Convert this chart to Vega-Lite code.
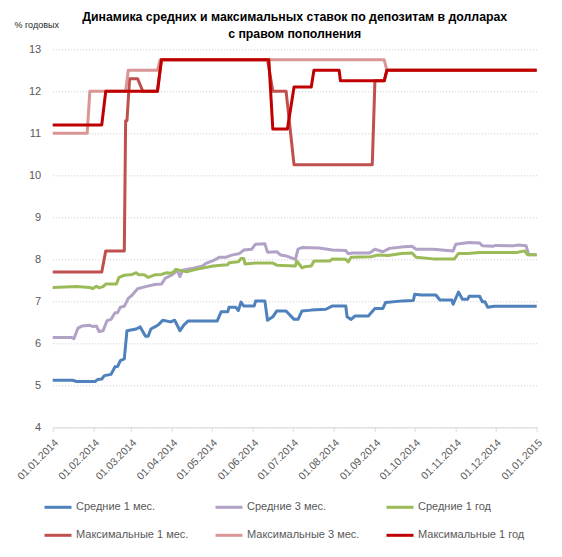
{
"$schema": "https://vega.github.io/schema/vega-lite/v6.json",
"width": 484, "height": 378,
"autosize": {"type": "none"},
"padding": {"left": 52.7, "top": 49.3, "right": 25.3, "bottom": 129.7},
"title": {"text": ["Динамика средних и максимальных ставок по депозитам в долларах", "с правом пополнения"], "font": "Liberation Sans", "fontSize": 12.3, "fontWeight": "bold", "color": "#000000", "anchor": "middle", "offset": -20, "lineHeight": 17},
"config": {"view": {"stroke": null}, "font": "Liberation Sans"},
"datasets": {
"m1": [{"d":"2014-01-01","v":5.12},{"d":"2014-01-16","v":5.12},{"d":"2014-01-19","v":5.09},{"d":"2014-02-02","v":5.09},{"d":"2014-02-04","v":5.14},{"d":"2014-02-07","v":5.15},{"d":"2014-02-09","v":5.23},{"d":"2014-02-14","v":5.26},{"d":"2014-02-17","v":5.44},{"d":"2014-02-19","v":5.45},{"d":"2014-02-21","v":5.59},{"d":"2014-02-24","v":5.63},{"d":"2014-02-26","v":6.30},{"d":"2014-03-05","v":6.34},{"d":"2014-03-08","v":6.39},{"d":"2014-03-12","v":6.17},{"d":"2014-03-14","v":6.17},{"d":"2014-03-16","v":6.34},{"d":"2014-03-19","v":6.39},{"d":"2014-03-22","v":6.45},{"d":"2014-03-25","v":6.55},{"d":"2014-03-31","v":6.51},{"d":"2014-04-03","v":6.55},{"d":"2014-04-07","v":6.30},{"d":"2014-04-10","v":6.44},{"d":"2014-04-13","v":6.53},{"d":"2014-05-05","v":6.53},{"d":"2014-05-08","v":6.75},{"d":"2014-05-13","v":6.75},{"d":"2014-05-14","v":6.86},{"d":"2014-05-19","v":6.86},{"d":"2014-05-21","v":6.78},{"d":"2014-05-23","v":6.98},{"d":"2014-05-25","v":6.89},{"d":"2014-06-02","v":6.89},{"d":"2014-06-03","v":7.01},{"d":"2014-06-10","v":7.01},{"d":"2014-06-12","v":6.55},{"d":"2014-06-16","v":6.63},{"d":"2014-06-19","v":6.77},{"d":"2014-06-26","v":6.77},{"d":"2014-07-02","v":6.57},{"d":"2014-07-05","v":6.57},{"d":"2014-07-08","v":6.77},{"d":"2014-07-15","v":6.79},{"d":"2014-07-26","v":6.81},{"d":"2014-07-31","v":6.89},{"d":"2014-08-10","v":6.89},{"d":"2014-08-11","v":6.63},{"d":"2014-08-14","v":6.57},{"d":"2014-08-17","v":6.65},{"d":"2014-08-27","v":6.65},{"d":"2014-09-01","v":6.83},{"d":"2014-09-07","v":6.83},{"d":"2014-09-09","v":6.97},{"d":"2014-09-22","v":7.01},{"d":"2014-09-30","v":7.02},{"d":"2014-10-01","v":7.17},{"d":"2014-10-06","v":7.15},{"d":"2014-10-17","v":7.15},{"d":"2014-10-20","v":7.03},{"d":"2014-10-29","v":7.03},{"d":"2014-10-30","v":6.93},{"d":"2014-11-03","v":7.22},{"d":"2014-11-06","v":7.05},{"d":"2014-11-10","v":7.05},{"d":"2014-11-11","v":7.12},{"d":"2014-11-19","v":7.12},{"d":"2014-11-21","v":6.99},{"d":"2014-11-23","v":6.99},{"d":"2014-11-25","v":6.86},{"d":"2014-11-30","v":6.88},{"d":"2015-01-01","v":6.88}],
"m3": [{"d":"2014-01-01","v":6.14},{"d":"2014-01-15","v":6.14},{"d":"2014-01-17","v":6.11},{"d":"2014-01-20","v":6.36},{"d":"2014-01-23","v":6.41},{"d":"2014-01-29","v":6.43},{"d":"2014-01-31","v":6.40},{"d":"2014-02-03","v":6.41},{"d":"2014-02-05","v":6.28},{"d":"2014-02-08","v":6.30},{"d":"2014-02-11","v":6.54},{"d":"2014-02-14","v":6.57},{"d":"2014-02-17","v":6.73},{"d":"2014-02-19","v":6.73},{"d":"2014-02-21","v":6.86},{"d":"2014-02-24","v":6.88},{"d":"2014-02-27","v":7.07},{"d":"2014-03-02","v":7.15},{"d":"2014-03-06","v":7.30},{"d":"2014-03-12","v":7.35},{"d":"2014-03-19","v":7.40},{"d":"2014-03-24","v":7.41},{"d":"2014-03-27","v":7.55},{"d":"2014-04-01","v":7.63},{"d":"2014-04-05","v":7.73},{"d":"2014-04-07","v":7.59},{"d":"2014-04-09","v":7.74},{"d":"2014-04-17","v":7.79},{"d":"2014-04-24","v":7.84},{"d":"2014-04-27","v":7.91},{"d":"2014-05-02","v":7.97},{"d":"2014-05-07","v":8.05},{"d":"2014-05-12","v":8.05},{"d":"2014-05-16","v":8.10},{"d":"2014-05-22","v":8.14},{"d":"2014-05-25","v":8.22},{"d":"2014-05-31","v":8.24},{"d":"2014-06-03","v":8.36},{"d":"2014-06-10","v":8.37},{"d":"2014-06-12","v":8.17},{"d":"2014-06-19","v":8.18},{"d":"2014-06-22","v":8.10},{"d":"2014-06-26","v":8.08},{"d":"2014-07-03","v":8.00},{"d":"2014-07-05","v":8.24},{"d":"2014-07-08","v":8.28},{"d":"2014-07-21","v":8.27},{"d":"2014-07-31","v":8.22},{"d":"2014-08-10","v":8.21},{"d":"2014-08-12","v":8.13},{"d":"2014-08-15","v":8.15},{"d":"2014-08-28","v":8.15},{"d":"2014-09-01","v":8.24},{"d":"2014-09-07","v":8.18},{"d":"2014-09-12","v":8.26},{"d":"2014-09-23","v":8.30},{"d":"2014-09-29","v":8.31},{"d":"2014-10-02","v":8.24},{"d":"2014-10-15","v":8.24},{"d":"2014-10-30","v":8.20},{"d":"2014-11-01","v":8.36},{"d":"2014-11-11","v":8.40},{"d":"2014-11-19","v":8.39},{"d":"2014-11-21","v":8.32},{"d":"2014-11-29","v":8.31},{"d":"2014-12-01","v":8.33},{"d":"2014-12-14","v":8.32},{"d":"2014-12-18","v":8.34},{"d":"2014-12-24","v":8.32},{"d":"2014-12-26","v":8.11},{"d":"2015-01-01","v":8.11}],
"g1": [{"d":"2014-01-01","v":7.33},{"d":"2014-01-19","v":7.35},{"d":"2014-01-29","v":7.33},{"d":"2014-01-31","v":7.30},{"d":"2014-02-03","v":7.36},{"d":"2014-02-05","v":7.32},{"d":"2014-02-08","v":7.35},{"d":"2014-02-10","v":7.41},{"d":"2014-02-18","v":7.41},{"d":"2014-02-20","v":7.57},{"d":"2014-02-24","v":7.62},{"d":"2014-03-02","v":7.64},{"d":"2014-03-05","v":7.68},{"d":"2014-03-07","v":7.63},{"d":"2014-03-11","v":7.63},{"d":"2014-03-14","v":7.57},{"d":"2014-03-19","v":7.63},{"d":"2014-03-24","v":7.64},{"d":"2014-03-28","v":7.68},{"d":"2014-04-01","v":7.67},{"d":"2014-04-04","v":7.76},{"d":"2014-04-12","v":7.70},{"d":"2014-04-19","v":7.76},{"d":"2014-04-24","v":7.79},{"d":"2014-05-02","v":7.84},{"d":"2014-05-08","v":7.86},{"d":"2014-05-13","v":7.87},{"d":"2014-05-14","v":7.92},{"d":"2014-05-21","v":7.94},{"d":"2014-05-23","v":8.02},{"d":"2014-05-25","v":8.02},{"d":"2014-05-26","v":7.89},{"d":"2014-06-03","v":7.91},{"d":"2014-06-16","v":7.91},{"d":"2014-06-19","v":7.86},{"d":"2014-07-03","v":7.84},{"d":"2014-07-04","v":7.96},{"d":"2014-07-08","v":7.80},{"d":"2014-07-10","v":7.82},{"d":"2014-07-15","v":7.84},{"d":"2014-07-17","v":7.96},{"d":"2014-07-29","v":7.96},{"d":"2014-07-31","v":8.01},{"d":"2014-08-10","v":8.00},{"d":"2014-08-12","v":7.94},{"d":"2014-08-14","v":8.05},{"d":"2014-08-29","v":8.06},{"d":"2014-09-03","v":8.10},{"d":"2014-09-11","v":8.09},{"d":"2014-09-21","v":8.14},{"d":"2014-09-29","v":8.15},{"d":"2014-10-02","v":8.05},{"d":"2014-10-15","v":8.01},{"d":"2014-10-31","v":8.01},{"d":"2014-11-03","v":8.14},{"d":"2014-11-10","v":8.14},{"d":"2014-11-19","v":8.16},{"d":"2014-12-17","v":8.16},{"d":"2014-12-23","v":8.20},{"d":"2014-12-25","v":8.11},{"d":"2015-01-01","v":8.11}],
"x1": [{"d":"2014-01-01","v":7.7},{"d":"2014-02-07","v":7.7},{"d":"2014-02-10","v":8.2},{"d":"2014-02-24","v":8.2},{"d":"2014-02-25","v":11.3},{"d":"2014-02-26","v":11.3},{"d":"2014-02-28","v":12.3},{"d":"2014-03-06","v":12.3},{"d":"2014-03-10","v":12.0},{"d":"2014-03-21","v":12.0},{"d":"2014-03-24","v":12.75},{"d":"2014-06-12","v":12.75},{"d":"2014-06-16","v":12.0},{"d":"2014-06-26","v":12.0},{"d":"2014-07-02","v":10.25},{"d":"2014-08-30","v":10.25},{"d":"2014-09-01","v":12.25},{"d":"2014-09-08","v":12.25},{"d":"2014-09-10","v":12.5},{"d":"2015-01-01","v":12.5}],
"x3": [{"d":"2014-01-01","v":11.0},{"d":"2014-01-27","v":11.0},{"d":"2014-01-29","v":12.0},{"d":"2014-02-25","v":12.0},{"d":"2014-02-27","v":12.5},{"d":"2014-03-21","v":12.5},{"d":"2014-03-23","v":12.75},{"d":"2014-09-08","v":12.75},{"d":"2014-09-10","v":12.5},{"d":"2015-01-01","v":12.5}],
"y1": [{"d":"2014-01-01","v":11.2},{"d":"2014-02-07","v":11.2},{"d":"2014-02-10","v":12.0},{"d":"2014-03-21","v":12.0},{"d":"2014-03-24","v":12.75},{"d":"2014-06-13","v":12.75},{"d":"2014-06-16","v":11.1},{"d":"2014-06-27","v":11.1},{"d":"2014-07-02","v":12.1},{"d":"2014-07-15","v":12.1},{"d":"2014-07-17","v":12.5},{"d":"2014-08-05","v":12.5},{"d":"2014-08-06","v":12.25},{"d":"2014-09-08","v":12.25},{"d":"2014-09-10","v":12.5},{"d":"2015-01-01","v":12.5}]
},
"encoding": {
"x": {"field": "d", "type": "temporal",
 "scale": {"type": "utc", "domain": [{"year": 2014, "month": 1, "date": 1, "utc": true}, {"year": 2015, "month": 1, "date": 1, "utc": true}]},
 "axis": {"title": null, "labelExpr": "utcFormat(datum.value, '%d.%m.%Y')", "tickCount": {"interval": "month", "step": 1}, "labelAngle": -45, "labelFontSize": 10.5, "labelColor": "#595959", "domainColor": "#D9D9D9", "tickColor": "#D9D9D9", "tickSize": 4, "grid": false, "labelPadding": 6, "labelOverlap": false, "labelFlush": false, "labelBound": false}},
"y": {"field": "v", "type": "quantitative",
 "scale": {"domain": [4, 13], "nice": false, "zero": false},
 "axis": {"title": "% годовых", "titleAngle": 0, "titleX": -38.7, "titleY": -25, "titleAlign": "left", "titleBaseline": "middle", "titleFontSize": 9, "titleFontWeight": "normal", "titleColor": "#262626", "values": [4, 5, 6, 7, 8, 9, 10, 11, 12, 13], "labelFontSize": 11, "labelColor": "#595959", "labelPadding": 12, "ticks": false, "domain": false, "grid": true, "gridColor": "#C8C8C8", "gridDash": [1, 2], "gridWidth": 1}}
},
"layer": [
{"data": {"name": "m1"}, "mark": {"type": "line", "strokeWidth": 3, "strokeJoin": "round"},
 "encoding": {"color": {"datum": "Средние 1 мес.", "type": "nominal",
  "scale": {"domain": ["Средние 1 мес.", "Средние 3 мес.", "Средние 1 год", "Максимальные 1 мес.", "Максимальные 3 мес.", "Максимальные 1 год"], "range": ["#4F81BD", "#B3A2C7", "#9BBB59", "#C0504D", "#D99694", "#C00000"]},
  "legend": {"title": null, "orient": "none", "direction": "horizontal", "legendX": -9.7, "legendY": 443, "columns": 3, "gridAlign": "all", "symbolType": "stroke", "symbolSize": 729, "symbolStrokeWidth": 3, "labelFontSize": 11, "labelColor": "#595959", "labelOffset": 3, "columnPadding": 20, "rowPadding": 7, "padding": 0, "labelLimit": 300}}}},
{"data": {"name": "m3"}, "mark": {"type": "line", "strokeWidth": 3, "strokeJoin": "round"}, "encoding": {"color": {"datum": "Средние 3 мес.", "type": "nominal"}}},
{"data": {"name": "g1"}, "mark": {"type": "line", "strokeWidth": 3, "strokeJoin": "round"}, "encoding": {"color": {"datum": "Средние 1 год", "type": "nominal"}}},
{"data": {"name": "x1"}, "mark": {"type": "line", "strokeWidth": 3, "strokeJoin": "round"}, "encoding": {"color": {"datum": "Максимальные 1 мес.", "type": "nominal"}}},
{"data": {"name": "x3"}, "mark": {"type": "line", "strokeWidth": 3, "strokeJoin": "round"}, "encoding": {"color": {"datum": "Максимальные 3 мес.", "type": "nominal"}}},
{"data": {"name": "y1"}, "mark": {"type": "line", "strokeWidth": 3, "strokeJoin": "round"}, "encoding": {"color": {"datum": "Максимальные 1 год", "type": "nominal"}}}
]
}
